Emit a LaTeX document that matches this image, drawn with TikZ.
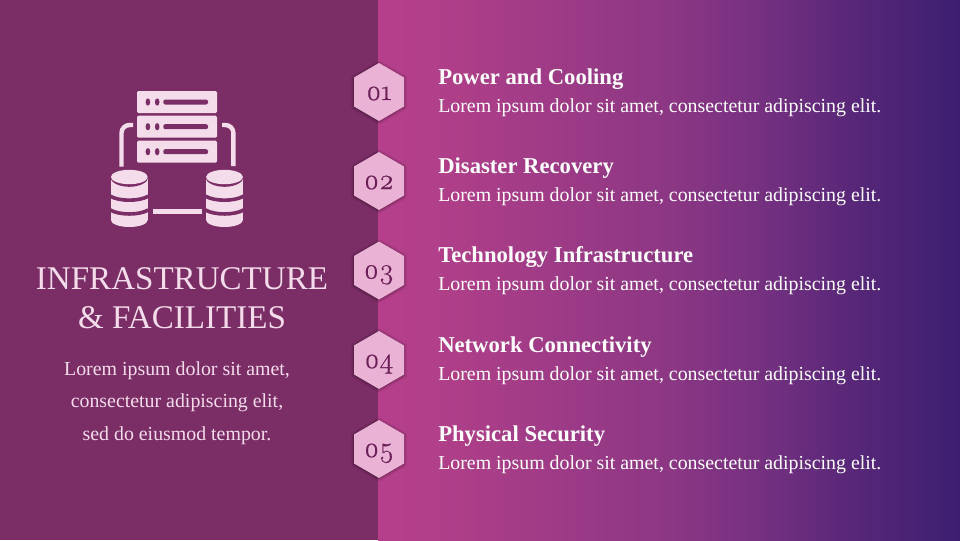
\documentclass[tikz,border=0pt]{standalone}
\usepackage{fontspec}
\setmainfont{Liberation Serif}
\newfontfamily\numfont[Numbers=OldStyle,FakeBold=0.6]{Latin Modern Roman}
\definecolor{leftbg}{HTML}{7B2D66}
\definecolor{pale}{HTML}{F5DCEB}
\definecolor{hexfill}{HTML}{EAB3D5}
\definecolor{numcol}{HTML}{6B1F57}
\definecolor{gstopa}{RGB}{181,63,138}
\definecolor{gstopb}{RGB}{178,63,137}
\definecolor{gstopc}{RGB}{140,55,132}
\definecolor{gstopd}{RGB}{116,48,128}
\definecolor{gstopf}{RGB}{86,38,120}
\definecolor{gstopg}{RGB}{60,31,113}
\pgfdeclarehorizontalshading{panelgrad}{100bp}{
  color(0bp)=(gstopa);
  color(25bp)=(gstopa);
  color(29.5bp)=(gstopb);
  color(50bp)=(gstopc);
  color(58.2bp)=(gstopd);
  color(66.3bp)=(gstopf);
  color(75bp)=(gstopg);
  color(100bp)=(gstopg)}
\tikzset{
  x=0.75pt,y=-0.75pt,
  iconfill/.style={fill=pale,draw=none},
  cutfill/.style={fill=leftbg,draw=none},
  iconline/.style={draw=pale,line width=3.3pt,line cap=butt},
  hexcell/.style={fill=hexfill,draw=none},
  hexnum/.style={text=numcol,font=\numfont\fontsize{21.5}{21}\selectfont,inner sep=0,anchor=base},
  headtext/.style={text=white,anchor=base west,inner sep=0,font=\fontsize{17}{17}\selectfont\bfseries},
  bodytext/.style={text=white,anchor=base west,inner sep=0,font=\fontsize{14.9}{16}\selectfont},
  titletext/.style={text=pale,anchor=base,inner sep=0,font=\fontsize{24.8}{26}\selectfont},
  subtext/.style={text=pale,anchor=base,inner sep=0,font=\fontsize{14.9}{16}\selectfont},
}
\newcommand{\hexcell}[3]{%
  \foreach \s/\o in {4.5/0.05,3/0.06,1.5/0.08}{%
    \fill[black,opacity=\o,line join=round,draw=black,line width=\s pt]
      (379,#1-28.5)--(404.2,#1-14)--(404.2,#1+15)--(379,#1+29.5)--(353.8,#1+15)--(353.8,#1-14)--cycle;}
  \fill[hexcell] (379,#1-29)--(404,#1-14.5)--(404,#1+14.5)--(379,#1+29)--(354,#1+14.5)--(354,#1-14.5)--cycle;
  \node[hexnum] (#3) at (379,#1+8) {#2};
}
\newcommand{\dbstack}[1]{%
  \fill[iconfill] (#1-18.4,177) rectangle (#1+18.4,220);
  \fill[iconfill] (#1,220) ellipse[x radius=18.4,y radius=7];
  \foreach \yy in {196.2,210}{%
    \draw[draw=leftbg,line width=2.7pt] (#1-19,\yy) .. controls (#1-10,\yy+5.3) and (#1+10,\yy+5.3) .. (#1+19,\yy);}
  \fill[cutfill] (#1,177) ellipse[x radius=19,y radius=9.8];
  \fill[iconfill] (#1,177) ellipse[x radius=18.4,y radius=7.2];
}
\newcommand{\rack}[2]{%
  \fill[iconfill,rounded corners=1pt] (137,#1) rectangle (217,#1+22);
  \fill[cutfill] (147.9,#1+11) ellipse[x radius=2.3,y radius=3.6];
  \fill[cutfill] (157.2,#1+11) ellipse[x radius=2.3,y radius=3.6];
  \fill[cutfill,rounded corners=1.5pt] (163.3,#1+8.5) rectangle (208,#1+13.5);
}
\begin{document}
\begin{tikzpicture}
\useasboundingbox (0,0) rectangle (960,540);
\fill[leftbg] (0,0) rectangle (378,540);
\shade[shading=panelgrad] (378,0) rectangle (960,540);
\rack{91}{a}\rack{115.7}{b}\rack{140.7}{c}
\coordinate (bl1) at (121.5,166.5);\coordinate (bl2) at (133,125);
\coordinate (br1) at (233.4,166);\coordinate (br2) at (222,125);
\draw[iconline,rounded corners=6pt] (bl1)|-(bl2);
\draw[iconline,rounded corners=6pt] (br1)|-(br2);
\dbstack{129.3}\dbstack{224.5}
\coordinate (ca) at (153,211.5);\coordinate (cb) at (202,211.5);
\draw[draw=pale,line width=3.6pt] (ca)--(cb);
\node[titletext] (t1) at (182,289.5) {INFRASTRUCTURE};
\node[titletext] (t2) at (182,328) {\& FACILITIES};
\node[subtext] (s1) at (177,375) {Lorem ipsum dolor sit amet,};
\node[subtext] (s2) at (177,407.5) {consectetur adipiscing elit,};
\node[subtext] (s3) at (177,440) {sed do eiusmod tempor.};
\hexcell{92}{01}{h1}\hexcell{181}{02}{h2}\hexcell{270.5}{03}{h3}\hexcell{360}{04}{h4}\hexcell{449}{05}{h5}
\foreach \yy/\tt/\n in {84/Power and Cooling/1,173/Disaster Recovery/2,262.5/Technology Infrastructure/3,352/Network Connectivity/4,441/Physical Security/5}{
  \node[headtext] (hd\n) at (438,\yy) {\tt};
  \node[bodytext] (bd\n) at (438,\yy+28) {Lorem ipsum dolor sit amet, consectetur adipiscing elit.};
}
\end{tikzpicture}
\end{document}
